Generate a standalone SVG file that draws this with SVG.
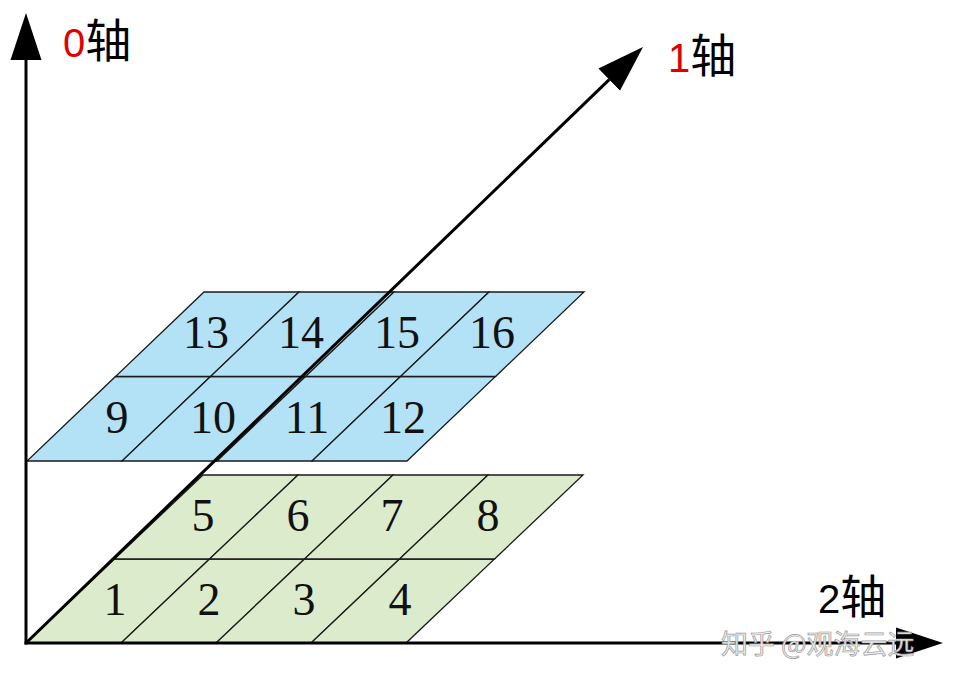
<svg xmlns="http://www.w3.org/2000/svg" width="954" height="679" viewBox="0 0 954 679">
<style>
.g{fill:#DCEBCB;stroke:#1a1a1a;stroke-width:1.3;stroke-linejoin:miter}
.b{fill:#B3E2F7;stroke:#1a1a1a;stroke-width:1.3;stroke-linejoin:miter}
.n{font-family:"Liberation Serif","Times New Roman",serif;font-size:46px;fill:#111;text-anchor:middle}
.ax{stroke:#000;stroke-width:3;fill:none}
.lab{font-family:"Liberation Sans",Arial,sans-serif;font-size:40px}
.cjk{font-family:"Noto Sans CJK SC","Noto Sans",sans-serif;font-size:46px;fill:#000}
.wm{font-family:"Noto Sans CJK SC",sans-serif;font-size:27px;fill:#efefef;stroke:#9a9a9a;stroke-width:0.7}
</style>
<defs>
<marker id="arr" markerUnits="userSpaceOnUse" viewBox="0 -16 48 32" refX="0" refY="0" markerWidth="48" markerHeight="32" orient="auto">
<path d="M0,-15.5 L47,0 L0,15.5 Z" fill="#000"/>
</marker>
</defs>
<g id="layer-green">
<g id="cell1"><polygon class="g" points="26,643 121,643 209.5,559 114.5,559"/><text class="n" x="115" y="615">1</text></g>
<g id="cell2"><polygon class="g" points="121,643 216,643 304.5,559 209.5,559"/><text class="n" x="209" y="615">2</text></g>
<g id="cell3"><polygon class="g" points="216,643 311,643 399.5,559 304.5,559"/><text class="n" x="304" y="615">3</text></g>
<g id="cell4"><polygon class="g" points="311,643 406,643 494.5,559 399.5,559"/><text class="n" x="400" y="615">4</text></g>
<g id="cell5"><polygon class="g" points="114.5,559 209.5,559 298,475 203,475"/><text class="n" x="203" y="531">5</text></g>
<g id="cell6"><polygon class="g" points="209.5,559 304.5,559 393,475 298,475"/><text class="n" x="298" y="531">6</text></g>
<g id="cell7"><polygon class="g" points="304.5,559 399.5,559 488,475 393,475"/><text class="n" x="392" y="531">7</text></g>
<g id="cell8"><polygon class="g" points="399.5,559 494.5,559 583,475 488,475"/><text class="n" x="488" y="531">8</text></g>
</g>
<g id="layer-blue">
<g id="cell9"><polygon class="b" points="27,461 122,461 210.5,376.5 115.5,376.5"/><text class="n" x="117" y="433">9</text></g>
<g id="cell10"><polygon class="b" points="122,461 217,461 305.5,376.5 210.5,376.5"/><text class="n" x="213" y="433">10</text></g>
<g id="cell11"><polygon class="b" points="217,461 312,461 400.5,376.5 305.5,376.5"/><text class="n" x="307" y="433">11</text></g>
<g id="cell12"><polygon class="b" points="312,461 407,461 495.5,376.5 400.5,376.5"/><text class="n" x="403" y="433">12</text></g>
<g id="cell13"><polygon class="b" points="115.5,376.5 210.5,376.5 299,292 204,292"/><text class="n" x="206" y="348">13</text></g>
<g id="cell14"><polygon class="b" points="210.5,376.5 305.5,376.5 394,292 299,292"/><text class="n" x="301" y="348">14</text></g>
<g id="cell15"><polygon class="b" points="305.5,376.5 400.5,376.5 489,292 394,292"/><text class="n" x="397" y="348">15</text></g>
<g id="cell16"><polygon class="b" points="400.5,376.5 495.5,376.5 584,292 489,292"/><text class="n" x="492" y="348">16</text></g>
</g>
<g id="connectors">
<line class="ax" x1="26" y1="644.5" x2="26" y2="60" marker-end="url(#arr)"/>
<line class="ax" x1="24.5" y1="643" x2="896" y2="643" marker-end="url(#arr)"/>
<line class="ax" x1="26" y1="643" x2="609.2" y2="79.7" marker-end="url(#arr)"/>
</g>
<g id="axis-labels">
<text x="63" y="57"><tspan class="lab" fill="#e00000">0</tspan><tspan class="cjk">轴</tspan></text>
<text x="668" y="72"><tspan class="lab" fill="#e00000">1</tspan><tspan class="cjk">轴</tspan></text>
<text x="818" y="613"><tspan class="lab" fill="#000">2</tspan><tspan class="cjk">轴</tspan></text>
</g>
<text class="wm" x="721" y="654">知乎 @观海云远</text>
</svg>
